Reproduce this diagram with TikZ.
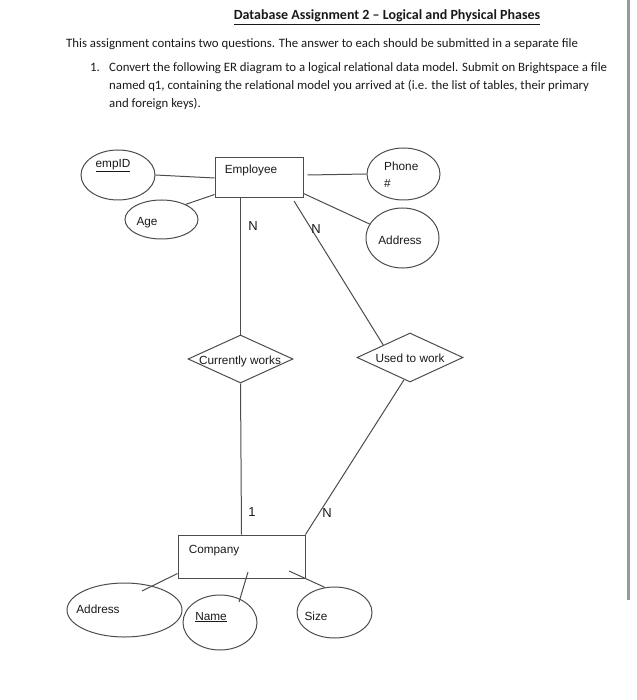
\documentclass[tikz,border=0pt]{standalone}
\usepackage{fontspec}
\setmainfont{Carlito}
\newfontfamily\erfont{Liberation Sans}
\usetikzlibrary{shapes.geometric}

\tikzset{
    entity/.style={draw=black!70, line width=1pt, rectangle, inner sep=0pt},
    attrib/.style={draw=black!70, line width=1pt, ellipse, inner sep=0pt},
    relation/.style={draw=black!70, line width=1pt, diamond, inner sep=0pt},
    link/.style={draw=black!70, line width=1pt},
    ertext/.style={font=\erfont\fontsize{11.8}{17}\selectfont, inner sep=0pt, text=black!90},
    cardtext/.style={font=\erfont\fontsize{13}{15}\selectfont, inner sep=0pt, text=black!90},
    bodytext/.style={font=\fontsize{12.8}{14}\selectfont, inner sep=0pt, anchor=base west, text=black!90}
}

\begin{document}
\begin{tikzpicture}[x=1pt, y=-1pt]
    \useasboundingbox (0,0) rectangle (636,700);

    % Page text
    \node[bodytext, anchor=base, font=\bfseries\fontsize{14}{16}\selectfont] (title) at (387,20)
        {\underline{Database Assignment 2 -- Logical and Physical Phases}};
    \node[bodytext] (intro) at (66,48)
        {This assignment contains two questions. The answer to each should be submitted in a separate file};
    \node[bodytext] (num) at (90,72) {1.};
    \node[bodytext] (qa) at (109,72)
        {Convert the following ER diagram to a logical relational data model. Submit on Brightspace a file};
    \node[bodytext] (qb) at (109,90)
        {named q1, containing the relational model you arrived at (i.e. the list of tables, their primary};
    \node[bodytext] (qc) at (109,108) {and foreign keys).};

    % Page edge
    \fill[black!40] (626.5,0) rectangle (629.5,600);

    % Define coordinates for the shapes
    \coordinate (E) at (259,178);
    \coordinate (C) at (241.5,556.5);
    \coordinate (R1) at (240.5,359);
    \coordinate (R2) at (410,357.5);

    % Entities and relationships
    \node[entity, minimum width=88pt, minimum height=40pt] (Emp) at (E) {};
    \node[ertext] (EmpT) at (251,170) {Employee};
    \node[entity, minimum width=127pt, minimum height=43pt] (Comp) at (C) {};
    \node[ertext] (CompT) at (214,551) {Company};
    \node[relation, minimum width=105pt, minimum height=48pt] (Cur) at (R1) {};
    \node[ertext] (CurT) at (240,361) {Currently works};
    \node[relation, minimum width=106pt, minimum height=49pt] (Used) at (R2) {};
    \node[ertext] (UsedT) at (410,358) {Used to work};

    % Attributes of Employee
    \node[attrib, minimum width=74pt, minimum height=50pt] (EmpID) at (118,175) {};
    \node[ertext] (EmpIDT) at (113,166) {\underline{empID}};
    \node[attrib, minimum width=73pt, minimum height=39pt] (Age) at (161.5,219.5) {};
    \node[ertext] (AgeT) at (147,223) {Age};
    \node[attrib, minimum width=73pt, minimum height=52pt] (Phone) at (403.5,174) {};
    \node[ertext, align=left, anchor=north west] (PhoneT) at (384,161.5) {Phone\\\#};
    \node[attrib, minimum width=73pt, minimum height=60pt] (Addr) at (402.5,238) {};
    \node[ertext] (AddrT) at (400,240) {Address};

    % Attributes of Company
    \node[attrib, minimum width=115pt, minimum height=54pt] (CAddr) at (124.5,610) {};
    \node[ertext] (CAddrT) at (98,609) {Address};
    \node[attrib, minimum width=74pt, minimum height=55pt] (Name) at (220,622.5) {};
    \node[ertext] (NameT) at (211,617) {\underline{Name}};
    \node[attrib, minimum width=75pt, minimum height=51pt] (Size) at (334.5,612.5) {};
    \node[ertext] (SizeT) at (316,616) {Size};

    % Free ends of the lines
    \coordinate (empN) at (294,201);
    \coordinate (cAddrIn) at (142,591);
    \coordinate (compName) at (248,572);
    \coordinate (nameIn) at (239,602);
    \coordinate (compSize) at (289,571);

    % Draw the lines
    \draw[link] (EmpID.east) -- (Emp.west);
    \draw[link] (Age.32) -- ([yshift=4pt]Emp.south west);
    \draw[link] ([shift={(4,-3)}]Emp.east) -- (Phone.west);
    \draw[link] ([yshift=5pt]Emp.south east) -- (Addr.157);
    \draw[link] (Cur.north |- Emp.south) -- (Cur.north);
    \draw[link] (empN) -- (Used.north west);
    \draw[link] (Cur.south) -- (Comp.north);
    \draw[link] (Used.255) -- (Comp.north east);
    \draw[link] (cAddrIn) -- ([yshift=5pt]Comp.south west);
    \draw[link] (compName) -- (nameIn);
    \draw[link] (compSize) -- (Size.111);

    % Cardinalities
    \node[cardtext] (n1) at (253,226) {N};
    \node[cardtext] (n2) at (316,229) {N};
    \node[cardtext] (one) at (252,512) {1};
    \node[cardtext] (n3) at (327,513) {N};
\end{tikzpicture}
\end{document}
